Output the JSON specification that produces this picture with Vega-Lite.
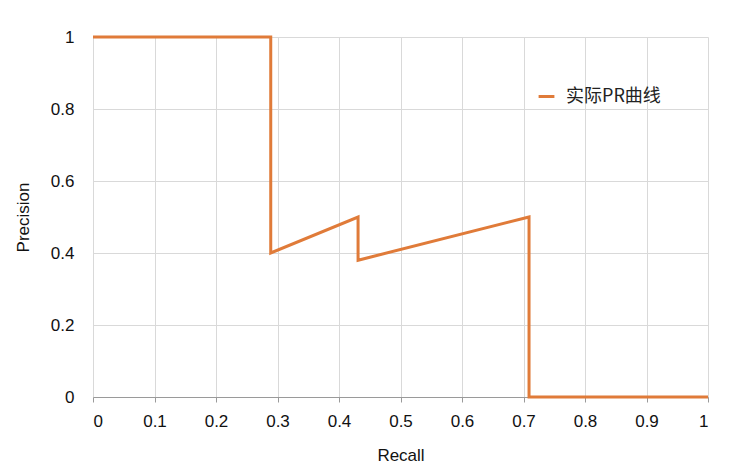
{
  "$schema": "https://vega.github.io/schema/vega-lite/v6.json",
  "autosize": "none",
  "width": 615,
  "height": 360,
  "padding": {"left": 93, "top": 37, "right": 26, "bottom": 76},
  "background": "white",
  "data": {
    "values": [
      {"i": 0, "recall": 0, "precision": 1, "series": "实际PR曲线"},
      {"i": 1, "recall": 0.289, "precision": 1, "series": "实际PR曲线"},
      {"i": 2, "recall": 0.289, "precision": 0.4, "series": "实际PR曲线"},
      {"i": 3, "recall": 0.431, "precision": 0.5, "series": "实际PR曲线"},
      {"i": 4, "recall": 0.431, "precision": 0.38, "series": "实际PR曲线"},
      {"i": 5, "recall": 0.709, "precision": 0.5, "series": "实际PR曲线"},
      {"i": 6, "recall": 0.709, "precision": 0, "series": "实际PR曲线"},
      {"i": 7, "recall": 1, "precision": 0, "series": "实际PR曲线"}
    ]
  },
  "mark": {"type": "line", "strokeWidth": 3, "strokeJoin": "miter"},
  "encoding": {
    "x": {
      "field": "recall",
      "type": "quantitative",
      "title": "Recall",
      "scale": {"domain": [0, 1], "nice": false, "zero": true},
      "axis": {
        "values": [0, 0.1, 0.2, 0.3, 0.4, 0.5, 0.6, 0.7, 0.8, 0.9, 1],
        "labelExpr": "datum.value == 0 ? '0' : datum.value == 1 ? '1' : format(datum.value, '.1f')",
        "gridColor": "#d9d9d9",
        "domainColor": "#9a9a9a",
        "tickColor": "#9a9a9a",
        "tickSize": 5,
        "labelPadding": 11,
        "titlePadding": 18
      }
    },
    "y": {
      "field": "precision",
      "type": "quantitative",
      "title": "Precision",
      "scale": {"domain": [0, 1], "nice": false},
      "axis": {
        "values": [0, 0.2, 0.4, 0.6, 0.8, 1],
        "labelExpr": "datum.value == 0 ? '0' : datum.value == 1 ? '1' : format(datum.value, '.1f')",
        "gridColor": "#d9d9d9",
        "domain": false,
        "ticks": false,
        "labelPadding": 19,
        "titlePadding": 18
      }
    },
    "order": {"field": "i", "type": "quantitative"},
    "color": {
      "field": "series",
      "type": "nominal",
      "scale": {"range": ["#e07b39"]},
      "legend": {
        "title": null,
        "orient": "none",
        "legendX": 444,
        "legendY": 50,
        "symbolType": "stroke",
        "symbolStrokeWidth": 3,
        "symbolSize": 250,
        "labelOffset": 10,
        "labelFontSize": 18,
        "labelColor": "#222"
      }
    }
  },
  "config": {
    "font": "Liberation Sans",
    "view": {"stroke": null},
    "axis": {
      "labelFontSize": 17,
      "labelColor": "#111",
      "titleFontSize": 17,
      "titleFontWeight": "normal",
      "titleColor": "#111"
    },
    "legend": {"labelFont": "Noto Sans CJK SC"}
  }
}
